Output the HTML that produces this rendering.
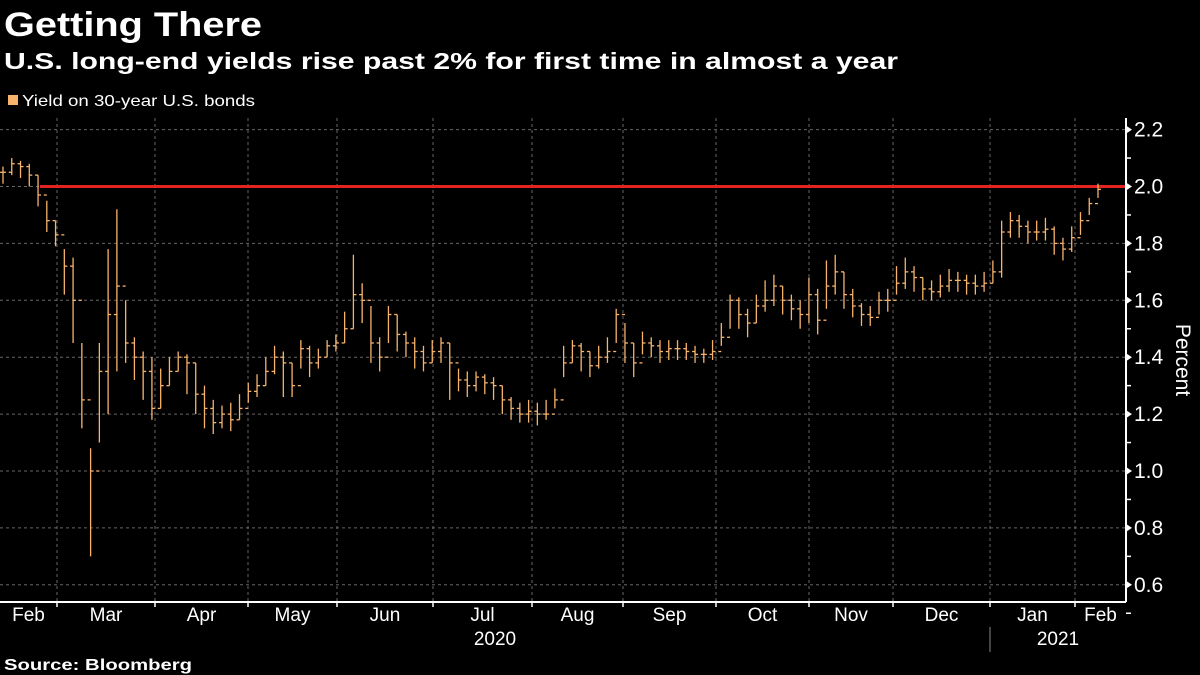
<!DOCTYPE html>
<html><head><meta charset="utf-8"><style>
body{margin:0;background:#000;width:1200px;height:675px;overflow:hidden;font-family:"Liberation Sans",sans-serif;color:#fff}
svg{position:absolute;left:0;top:0}
</style></head><body>
<svg width="1200" height="675">
<text x="4" y="36" font-size="34" font-weight="bold" fill="#fff" textLength="258" lengthAdjust="spacingAndGlyphs">Getting There</text>
<text x="4" y="69" font-size="23" font-weight="bold" fill="#fff" textLength="894" lengthAdjust="spacingAndGlyphs">U.S. long-end yields rise past 2% for first time in almost a year</text>
<rect x="8" y="95" width="10" height="10" fill="#f7b36b"/>
<text x="22" y="106" font-size="16" fill="#fff" textLength="233" lengthAdjust="spacingAndGlyphs">Yield on 30-year U.S. bonds</text>
<g id="grid"></g>
<g id="bars"></g>
<g id="axes"></g>
<text transform="translate(1176,360) rotate(90)" font-size="21" fill="#fff" text-anchor="middle">Percent</text>
<text x="4" y="670" font-size="16" font-weight="bold" fill="#fff" textLength="188" lengthAdjust="spacingAndGlyphs">Source: Bloomberg</text>
</svg>
<script>
const closes=[2.05,2.08,2.07,2.04,1.97,1.88,1.83,1.72,1.60,1.25,
1.00,1.35,1.55,1.65,1.45,1.40,1.35,1.22,1.30,1.35,
1.40,1.38,1.27,1.22,1.17,1.20,1.18,1.22,1.28,1.30,
1.35,1.40,1.38,1.30,1.43,1.38,1.40,1.44,1.45,1.50,
1.62,1.60,1.45,1.40,1.55,1.48,1.45,1.42,1.38,1.42,
1.45,1.38,1.32,1.30,1.33,1.31,1.30,1.25,1.22,1.20,
1.21,1.20,1.20,1.25,1.38,1.44,1.42,1.37,1.40,1.42,
1.55,1.45,1.38,1.45,1.44,1.42,1.43,1.43,1.42,1.41,
1.41,1.42,1.47,1.60,1.55,1.52,1.58,1.60,1.65,1.60,
1.57,1.55,1.62,1.53,1.65,1.70,1.62,1.58,1.55,1.54,
1.60,1.60,1.66,1.70,1.68,1.64,1.63,1.65,1.67,1.67,
1.66,1.65,1.66,1.70,1.84,1.88,1.86,1.84,1.84,1.85,
1.80,1.78,1.82,1.88,1.94,1.99];
const highs=[2.07,2.10,2.09,2.08,2.04,1.95,1.88,1.78,1.75,1.45,
1.08,1.45,1.78,1.92,1.60,1.47,1.42,1.40,1.36,1.40,
1.42,1.41,1.38,1.30,1.25,1.23,1.24,1.27,1.31,1.34,
1.40,1.44,1.42,1.38,1.46,1.44,1.43,1.46,1.48,1.56,
1.76,1.66,1.58,1.47,1.58,1.55,1.49,1.47,1.44,1.46,
1.47,1.45,1.36,1.35,1.35,1.34,1.33,1.30,1.26,1.24,
1.25,1.24,1.25,1.29,1.44,1.46,1.45,1.42,1.44,1.47,
1.57,1.52,1.45,1.49,1.47,1.46,1.46,1.46,1.45,1.44,
1.43,1.46,1.52,1.62,1.61,1.57,1.62,1.67,1.69,1.65,
1.62,1.60,1.68,1.64,1.74,1.76,1.70,1.64,1.59,1.58,
1.63,1.64,1.72,1.75,1.72,1.68,1.67,1.69,1.71,1.70,
1.69,1.69,1.70,1.74,1.88,1.91,1.90,1.88,1.88,1.89,
1.86,1.82,1.86,1.91,1.96,2.01];
const lows=[2.01,2.04,2.03,2.00,1.93,1.84,1.79,1.62,1.45,1.15,
0.70,1.10,1.20,1.35,1.38,1.32,1.25,1.18,1.22,1.30,
1.35,1.27,1.20,1.15,1.13,1.15,1.14,1.18,1.24,1.26,
1.30,1.34,1.26,1.26,1.36,1.33,1.36,1.40,1.42,1.45,
1.50,1.52,1.38,1.35,1.45,1.42,1.40,1.36,1.35,1.38,
1.38,1.25,1.28,1.26,1.28,1.27,1.25,1.20,1.18,1.17,
1.17,1.16,1.18,1.22,1.33,1.38,1.35,1.33,1.36,1.38,
1.45,1.38,1.33,1.41,1.40,1.38,1.39,1.39,1.39,1.38,
1.38,1.39,1.44,1.50,1.50,1.47,1.52,1.56,1.58,1.55,
1.53,1.50,1.52,1.48,1.57,1.62,1.57,1.54,1.51,1.51,
1.55,1.56,1.62,1.64,1.63,1.60,1.60,1.61,1.63,1.63,
1.62,1.62,1.63,1.66,1.68,1.82,1.82,1.80,1.81,1.81,
1.76,1.74,1.77,1.83,1.90,1.96];
const yTicks=[2.2,2.0,1.8,1.6,1.4,1.2,1.0,0.8,0.6];
const monthLabels=["Feb","Mar","Apr","May","Jun","Jul","Aug","Sep","Oct","Nov","Dec","Jan","Feb"];
const threshold=2.0;

const NS="http://www.w3.org/2000/svg";
const X0=3,X1=1098,AX=1126,AXB=602;
function yS(v){return 186.5-(v-2)*284.5;}
function xS(i){return X0+i*(X1-X0)/(closes.length-1);}
const boundaries=[57,155,248,337,433,532,623,716,809,893,990,1075];
function mk(tag,attrs,parent){const e=document.createElementNS(NS,tag);for(const k in attrs)e.setAttribute(k,attrs[k]);parent.appendChild(e);return e;}
const grid=document.getElementById('grid'),bars=document.getElementById('bars'),axes=document.getElementById('axes');
yTicks.forEach(t=>{
  const l=mk('line',{x1:0,x2:AX,y1:yS(t),y2:yS(t),stroke:'#666','stroke-width':1,'stroke-dasharray':'3,3'},grid);
  
  
});
boundaries.forEach(b=>{
  const l=mk('line',{x1:b,x2:b,y1:118,y2:AXB,stroke:'#666','stroke-width':1,'stroke-dasharray':'3,3'},grid);
  
  
});
const red=mk('line',{x1:40,x2:AX,y1:yS(threshold),y2:yS(threshold),stroke:'#e3231f','stroke-width':3},grid);


closes.forEach((c,i)=>{
  const x=xS(i),o=i>0?closes[i-1]:c;
  const g=mk('g',{stroke:'#f7b36b','stroke-width':1.3},bars);
  
  
  mk('line',{x1:x,x2:x,y1:yS(highs[i]),y2:yS(lows[i])},g);
  mk('line',{x1:x-3,x2:x,y1:yS(o),y2:yS(o)},g);
  mk('line',{x1:x,x2:x+3,y1:yS(c),y2:yS(c)},g);
});
mk('line',{x1:AX,x2:AX,y1:118,y2:AXB,stroke:'#fff','stroke-width':2},axes);
mk('line',{x1:0,x2:AX,y1:AXB,y2:AXB,stroke:'#fff','stroke-width':2},axes);
yTicks.forEach(t=>{
  const y=yS(t);
  mk('path',{d:`M${AX} ${y-4}L${AX+6} ${y}L${AX} ${y+4}Z`,fill:'#fff'},axes);
  mk('line',{x1:AX,x2:AX+5,y1:yS(t-0.1),y2:yS(t-0.1),stroke:'#fff','stroke-width':1.5},axes);
  const tx=mk('text',{x:AX+8,y:y+7,'font-size':21,fill:'#fff'},axes);
  tx.textContent=t.toFixed(1);
  
  
});
boundaries.forEach(b=>mk('line',{x1:b,x2:b,y1:AXB,y2:AXB+5,stroke:'#fff','stroke-width':1.5},axes));
const edges=[0].concat(boundaries,[AX]);
monthLabels.forEach((m,i)=>{
  const cx=(edges[i]+edges[i+1])/2;
  const t=mk('text',{x:cx,y:621,'font-size':19,fill:'#fff','text-anchor':'middle'},axes);
  t.textContent=m;
  
  
});
const y1=mk('text',{x:495,y:645,'font-size':19,fill:'#fff','text-anchor':'middle'},axes);
y1.textContent='2020';


const y2=mk('text',{x:1058,y:645,'font-size':19,fill:'#fff','text-anchor':'middle'},axes);
y2.textContent='2021';


mk('line',{x1:990,x2:990,y1:627,y2:652,stroke:'#888','stroke-width':1},axes);
</script>
</body></html>
